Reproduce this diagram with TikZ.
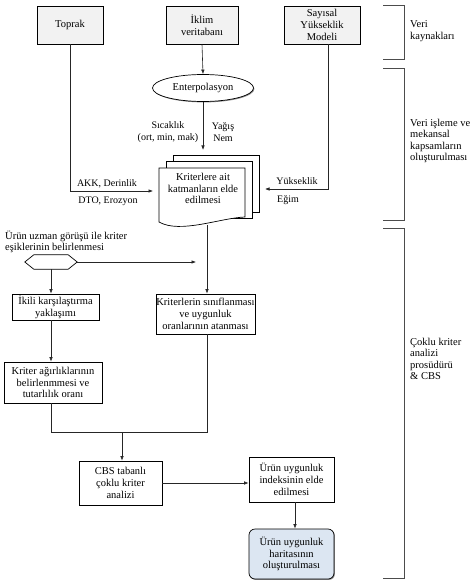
\documentclass[tikz,border=0pt]{standalone}
\usepackage{fontspec}
\setmainfont{Liberation Serif}
\usetikzlibrary{arrows.meta,shapes.geometric,shadows}
\definecolor{boxgray}{HTML}{F2F2F2}
\definecolor{boxblue}{HTML}{DCE6F2}
\tikzset{
  txt/.style={font=\fontsize{10.5}{11.8}\selectfont, align=center, inner sep=0pt},
  small/.style={txt, font=\fontsize{10}{12}\selectfont},
  box/.style={txt, draw=black, line width=0.7pt, fill=white,
    drop shadow={shadow xshift=0.9pt, shadow yshift=-0.9pt, fill=black!45, opacity=1}},
  graybox/.style={box, fill=boxgray},
  docline/.style={draw=black, line width=0.7pt, fill=white},
  conn/.style={line width=0.6pt, draw=black!85},
  arr/.style={conn, -{Latex[length=4.5pt,width=3.5pt]}},
  brk/.style={line width=0.7pt, draw=black!70},
  lbl/.style={txt, align=left, anchor=west, font=\fontsize{10.5}{11.5}\selectfont},
}
\begin{document}
\begin{tikzpicture}[x=1pt,y=-1pt]
\useasboundingbox[fill=white] (0,0) rectangle (474,588);

% data sources
\node[graybox, minimum width=66pt, minimum height=38pt] (toprak) at (70,25) {Toprak};
\node[graybox, minimum width=72pt, minimum height=38pt] (iklim) at (202,25) {İklim\\veritabanı};
\node[graybox, minimum width=76pt, minimum height=38pt] (dem) at (322,25) {Sayısal\\Yükseklik\\Modeli};
\node[box, ellipse, minimum width=101pt, minimum height=27pt] (enterp) at (203,88) {Enterpolasyon};

% labels
\node[small] (sic) at (168,132) {Sıcaklık\\(ort, min, mak)};
\node[small] (yagis) at (223,132) {Yağış\\Nem};
\node[small] (akk) at (107,184) {AKK, Derinlik};
\node[small] (dto) at (108,201) {DTO, Erozyon};
\node[small] (yuk) at (297,181) {Yükseklik};
\node[small] (egim) at (288,200) {Eğim};

% document stack
\draw[docline] (173,155) rectangle (259,212);
\draw[docline] (166,161) rectangle (252,218);
\draw[docline] (159,168) -- (245,168) -- (245,217) .. controls (220,218) and (180,234) .. (159,222) -- cycle;
\node[txt] (doctxt) at (203,188.5) {Kriterlere ait\\katmanların elde\\edilmesi};
\coordinate (docL) at (153,191);
\coordinate (docR) at (265,189);
\coordinate (docT) at (203,150);
\coordinate (docB) at (207,225);

\draw[arr] (iklim.south) -- (enterp.north);
\draw[arr] (enterp.south) -- (docT);
\draw[arr] (toprak.south) |- (docL);
\draw[arr] ([xshift=6pt]dem.south) |- (docR);

% classification
\node[box, minimum width=99pt, minimum height=40pt] (sinif) at (205.5,314) {Kriterlerin sınıflanması\\ve uygunluk\\oranlarının atanması};
\draw[arr] (docB) -- (docB |- sinif.north);

% expert opinion
\node[lbl] (uzman) at (5,242) {Ürün uzman görüşü ile kriter\\eşiklerinin belirlenmesi};
\node[minimum width=52pt, minimum height=14pt, inner sep=0pt] (hex) at (51,262) {};
\draw[docline] (hex.west) -- ([xshift=9pt]hex.north west) -- ([xshift=-9pt]hex.north east) -- (hex.east)
  -- ([xshift=-9pt]hex.south east) -- ([xshift=9pt]hex.south west) -- cycle;
\coordinate (thr) at (196,262);
\draw[arr] (hex.east) -- (thr);

\node[box, minimum width=87pt, minimum height=26pt] (ikili) at (55.5,307) {İkili karşılaştırma\\yaklaşımı};
\draw[arr] (hex.south) -- (hex.south |- ikili.north);
\node[box, minimum width=98pt, minimum height=41pt] (agir) at (53,382.5) {Kriter ağırlıklarının\\belirlenmmesi ve\\tutarlılık oranı};
\draw[arr] (hex.south |- ikili.south) -- (hex.south |- agir.north);

% junction
\coordinate (jn) at (122,432);
\draw[conn] (hex.south |- agir.south) -- (hex.south |- jn) -- (docB |- jn) -- (docB |- sinif.south);

\node[box, minimum width=83pt, minimum height=44pt] (cbs) at (120.5,483) {CBS tabanlı\\çoklu kriter\\analizi};
\draw[arr] (jn) -- (jn |- cbs.north);
\node[box, minimum width=85pt, minimum height=45pt] (indeks) at (291.5,479.5) {Ürün uygunluk\\indeksinin elde\\edilmesi};
\draw[arr] (cbs.east) -- (cbs.east -| indeks.west);
\node[box, rounded corners=6pt, fill=boxblue, minimum width=85pt, minimum height=50pt] (harita) at (291.5,554) {Ürün uygunluk\\haritasının\\oluşturulması};
\draw[arr] ([xshift=3.5pt]indeks.south) -- ([xshift=3.5pt]harita.north);

% brackets
\draw[brk] (383,5) -- (404,5) -- (404,59) -- (383,59);
\draw[brk] (383,68) -- (404,68) -- (404,220) -- (383,220);
\draw[brk] (383,228) -- (404,228) -- (404,578) -- (383,578);
\node[lbl] (l1) at (410,31) {Veri\\kaynakları};
\node[lbl] (l2) at (410,141) {Veri işleme ve\\mekansal\\kapsamların\\oluşturulması};
\node[lbl] (l3) at (410,359) {Çoklu kriter\\analizi\\prosüdürü\\\& CBS};
\end{tikzpicture}
\end{document}
